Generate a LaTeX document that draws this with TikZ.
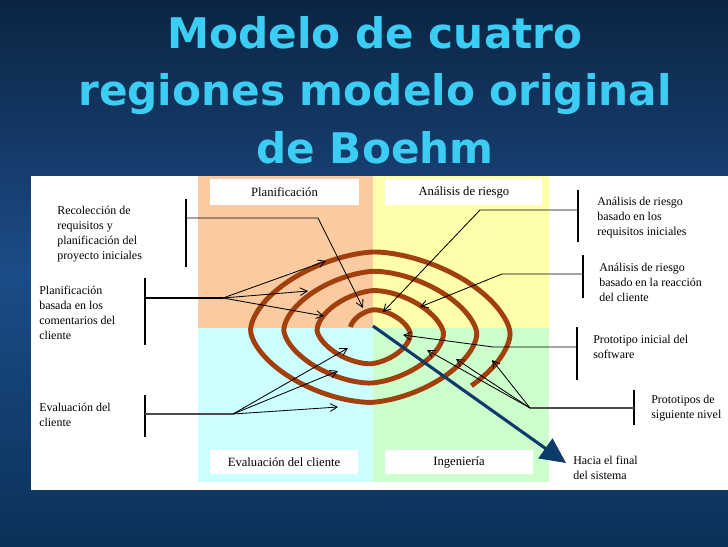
\documentclass[tikz,border=0pt]{standalone}
\usepackage{fontspec}
\setmainfont{Liberation Serif}
\newfontfamily\titlefont{DejaVu Sans}
\usepackage{xcolor}
\usepackage{tikz}
\usetikzlibrary{positioning, arrows.meta}

\definecolor{slidetop}{HTML}{0B2543}
\definecolor{slidemid}{HTML}{1C4C88}
\definecolor{slidebot}{HTML}{0A3258}
\definecolor{titlecyan}{HTML}{3CCDF5}
\definecolor{planif}{HTML}{FACBA0}
\definecolor{riesgo}{HTML}{FFFFAA}
\definecolor{evalua}{HTML}{CCFFFF}
\definecolor{ingen}{HTML}{CCFFCC}
\definecolor{espiral}{HTML}{A1400C}
\definecolor{flecha}{HTML}{0B3A6B}

\tikzset{
  quadlabel/.style={fill=white, minimum height=0.65cm, inner sep=0pt, font=\fontsize{9}{11}\selectfont},
  note/.style={align=left, anchor=west, inner sep=0pt, font=\fontsize{8.5}{10.6}\selectfont},
  bar/.style={line width=1pt},
  pointer/.style={-{Straight Barb[length=5pt, width=5.5pt]}, line width=0.6pt},
  greyline/.style={line width=1.2pt, gray!60!black},
}

\begin{document}
\begin{tikzpicture}[x=0.025cm, y=-0.025cm, node distance=0.65cm]
    % fondo
    \shade[top color=slidetop, bottom color=slidebot, middle color=slidemid] (0,0) rectangle (728,546);
    \useasboundingbox (0,0) rectangle (728,546);
    \fill[white] (31,176) rectangle (728,490);

    \node[font=\titlefont\bfseries\fontsize{30}{41}\selectfont, text=titlecyan, align=center] (titulo) at (375,90)
        {Modelo de cuatro\\regiones modelo original\\de Boehm};

    % cuadrantes
    \fill[planif] (198,176) rectangle (373,328);
    \fill[riesgo] (373,176) rectangle (549,328);
    \fill[evalua] (198,328) rectangle (373,482);
    \fill[ingen]  (373,328) rectangle (549,482);

    \node[quadlabel, minimum width=3.72cm] (lplanif) at (284.5,192) {Planificación};
    \node[quadlabel, minimum width=3.92cm, right=of lplanif] (lriesgo) {Análisis de riesgo};
    \node[quadlabel, minimum width=3.7cm, minimum height=0.6cm] (leval) at (284,462) {Evaluación del cliente};
    \node[quadlabel, minimum width=3.7cm, minimum height=0.6cm] (lingen) at (459,462) {Ingeniería};

    % espiral
    \draw[espiral, line width=3.5pt] plot[domain=-70:1212, samples=260, smooth, variable=\t]
        ({372 + (38+(\t-90)*0.0926)*sign(sin(\t))*pow(abs(sin(\t))+0.00001,1.2)},
         {332 - (22+\t*0.0537)*sign(cos(\t))*pow(abs(cos(\t))+0.00001,1.2)});

    \coordinate (centro) at (373,326);
    \node[note] (hacia) at (573,468) {Hacia el final\\del sistema};
    \coordinate (fin) at (566,463);
    \draw[flecha, line width=2.2pt, -{Triangle[length=18pt, width=17pt]}] (centro) -- (fin);

    % notas izquierda
    \node[note] (recol) at (57,234) {Recolección de\\requisitos y\\planificación del\\proyecto iniciales};
    \coordinate (recolbar) at (186,218);
    \coordinate (recolcodo) at (318,218);
    \coordinate (recolpunta) at (363,308);
    \draw[bar] (recolbar) ++(0,-19) -- ++(0,68);
    \draw[pointer] (recolbar) -- (recolcodo) -- (recolpunta);

    \node[note] (planc) at (39,313) {Planificación\\basada en los\\comentarios del\\cliente};
    \coordinate (plancbar) at (145,298);
    \coordinate (plancfan) at (223,298);
    \draw[bar] (plancbar) ++(0,-20) -- ++(0,67);
    \draw[line width=0.8pt] (plancbar) -- (plancfan);
    \draw[pointer] (plancfan) -- (326,261);
    \draw[pointer] (plancfan) -- (308,291);
    \draw[pointer] (plancfan) -- (324,316);

    \node[note] (evalc) at (39,414.5) {Evaluación del\\cliente};
    \coordinate (evalcbar) at (145,414);
    \coordinate (evalcfan) at (233,414);
    \draw[bar] (evalcbar) ++(0,-19) -- ++(0,42);
    \draw[greyline] (evalcbar) -- (evalcfan);
    \draw[pointer] (evalcfan) -- (348,348);
    \draw[pointer] (evalcfan) -- (338,371);
    \draw[pointer] (evalcfan) -- (338,407);

    % notas derecha
    \node[note] (riesgoa) at (597,218) {Análisis de riesgo\\basado en los\\requisitos iniciales};
    \coordinate (riesgoabar) at (578,210);
    \coordinate (riesgoacodo) at (480,210);
    \draw[bar] (riesgoabar) ++(0,-20) -- ++(0,52);
    \draw[pointer] (riesgoabar) -- (riesgoacodo) -- (383,312);

    \node[note] (riesgob) at (599,282) {Análisis de riesgo\\basado en la reacción\\del cliente};
    \coordinate (riesgobbar) at (583,274);
    \coordinate (riesgobcodo) at (502,274);
    \draw[bar] (riesgobbar) ++(0,-19) -- ++(0,43);
    \draw[pointer] (riesgobbar) -- (riesgobcodo) -- (420,307);

    \node[note] (proto) at (593,347) {Prototipo inicial del\\software};
    \coordinate (protobar) at (577,347);
    \coordinate (protocodo) at (493,347);
    \draw[bar] (protobar) ++(0,-20) -- ++(0,53);
    \draw[pointer] (protobar) -- (protocodo) -- (403,335);

    \node[note] (protos) at (651,408) {Prototipos de\\siguiente nivel};
    \coordinate (protosbar) at (634,408);
    \coordinate (protosfan) at (530,408);
    \draw[bar] (protosbar) ++(0,-18) -- ++(0,35);
    \draw[greyline] (protosbar) -- (protosfan);
    \draw[pointer] (protosfan) -- (427,350);
    \draw[pointer] (protosfan) -- (456,359);
    \draw[pointer] (protosfan) -- (492,360);
\end{tikzpicture}
\end{document}
